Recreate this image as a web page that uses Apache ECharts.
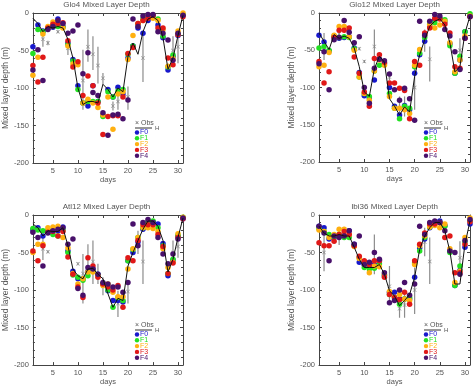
<!DOCTYPE html>
<html><head><meta charset="utf-8">
<script src="https://cdn.jsdelivr.net/npm/echarts@6/dist/echarts.min.js"></script>
<style>html,body{margin:0;padding:0;background:#fff}#c{width:474px;height:387px}</style>
</head><body><div id="c"></div>
<script>
const days = [1,2,3,4,5,6,7,8,9,10,11,12,13,14,15,16,17,18,19,20,21,22,23,24,25,26,27,28,29,30,31];
const xTicks = [5,10,15,20,25,30];
const titles = ["Glo4 Mixed Layer Depth","Glo12 Mixed Layer Depth","Atl12 Mixed Layer Depth","Ibi36 Mixed Layer Depth"];
const fNames = ["F0","F1","F2","F3","F4"];

// Panel 1 (Glo4)
const p1H  = [-7,-14,-25,-18,-20,-18,-20,-35,-60,-100,-122,-118,-118,-120,-95,-102,-112,-100,-105,-58,-40,-55,-25,-8,-5,-10,-33,-75,-60,-30,-3];
const p1F0 = [-45,-16,-24,-20,-19,-8,-18,-40,-62,-97,-120,-124,-97,-118,-136,-102,-112,-99,-108,-60,-44,-20,-27,-10,-5,-16,-33,-76,-58,-30,-3];
const p1F1 = [-54,-22,-25,-20,-18,-18,-19,-42,-64,-102,-120,-118,-118,-118,-138,-105,-112,-104,-102,-55,-44,-15,-8,-6,-3,-8,-31,-72,-56,-28,-2];
const p1F2 = [-83,-59,-28,-18,-12,-12,-20,-44,-68,-69,-120,-115,-120,-126,-136,-112,-155,-108,-105,-62,-30,-14,-10,-4,-7,-10,-22,-71,-61,-24,0];
const p1F3 = [-70,-92,-59,-20,-15,-14,-13,-37,-72,-65,-110,-84,-97,-120,-162,-138,-137,-137,-112,-54,-46,-14,-10,-7,-3,-20,-20,-60,-69,-29,-5];
const p1F4 = [-76,-49,-90,-22,-18,-10,-14,-27,-24,-16,-81,-53,-106,-110,-133,-163,-136,-135,-141,-116,-8,-18,-4,-2,-2,-25,-27,-36,-63,-27,-3];
const p1ObsDay = [3,4,6,8,11,12,13,14,15,17,18,20,23,29,30];
const p1ObsVal = [-35,-40,-25,-47,-90,-45,-55,-70,-87,-124,-118,-112,-60,-50,-45];
const p1ObsLo  = [-45,-43,-27,-56,-129,-65,-76,-94,-95,-130,-129,-129,-92,-67,-67];
const p1ObsHi  = [-25,-37,-23,-36,-49,-22,-31,-45,-80,-118,-107,-98,-27,-31,-25];

// Panel 2 (Glo12)
const p2H  = [-27,-38,-49,-29,-34,-31,-34,-47,-72,-106,-112,-75,-58,-66,-115,-125,-137,-126,-133,-85,-56,-36,-18,-11,-8,-16,-40,-79,-72,-27,-4];
const p2F0 = [-30,-39,-51,-32,-34,-33,-32,-47,-80,-111,-114,-90,-62,-68,-100,-125,-137,-124,-130,-81,-56,-38,-18,-9,-7,-12,-41,-81,-63,-25,-4];
const p2F1 = [-47,-45,-50,-31,-33,-32,-33,-48,-86,-108,-112,-78,-70,-68,-108,-128,-142,-125,-128,-72,-54,-33,-15,-13,-7,-9,-44,-81,-58,-25,-1];
const p2F2 = [-72,-70,-53,-30,-18,-18,-32,-50,-86,-108,-117,-78,-63,-70,-112,-128,-128,-130,-135,-70,-49,-29,-16,-20,-16,-11,-40,-79,-63,-31,-4];
const p2F3 = [-65,-94,-79,-33,-23,-23,-20,-59,-81,-106,-125,-61,-56,-66,-94,-94,-101,-104,-142,-65,-70,-27,-20,-7,-8,-15,-27,-72,-74,-34,-5];
const p2F4 = [-68,-52,-103,-36,-33,-10,-26,-40,-32,-100,-121,-74,-62,-64,-82,-103,-117,-101,-115,-144,-11,-30,-11,-2,-4,-22,-31,-52,-76,-34,-5];
const p2ObsDay = [2,5,9,10,12,15,17,18,20,22,23,29];
const p2ObsVal = [-42,-28,-48,-65,-45,-86,-128,-125,-100,-37,-62,-50];
const p2ObsLo  = [-63,-30,-50,-67,-72,-90,-144,-139,-130,-52,-92,-67];
const p2ObsHi  = [-27,-26,-46,-63,-22,-82,-112,-112,-72,-22,-45,-34];

// Panel 3 (Atl12)
const p3H  = [-12,-17,-28,-21,-22,-22,-17,-41,-72,-81,-85,-72,-71,-79,-85,-105,-123,-111,-114,-68,-50,-34,-19,-8,-8,-15,-34,-76,-59,-30,-4];
const p3F0 = [-20,-17,-28,-22,-21,-21,-16,-48,-75,-85,-85,-75,-72,-79,-92,-101,-114,-114,-116,-61,-50,-36,-19,-10,-9,-12,-38,-81,-60,-28,-5];
const p3F1 = [-18,-20,-21,-20,-26,-28,-20,-50,-80,-83,-87,-81,-75,-80,-92,-100,-123,-110,-114,-61,-46,-30,-17,-9,-8,-17,-41,-78,-59,-27,-3];
const p3F2 = [-50,-39,-39,-17,-16,-15,-30,-44,-78,-92,-85,-76,-76,-81,-94,-92,-103,-109,-109,-72,-45,-30,-17,-17,-18,-22,-45,-70,-63,-25,-3];
const p3F3 = [-48,-61,-41,-23,-22,-28,-22,-56,-79,-96,-110,-57,-68,-83,-92,-96,-100,-94,-123,-57,-61,-34,-13,-13,-13,-26,-42,-78,-64,-30,-5];
const p3F4 = [-23,-30,-68,-24,-21,-19,-17,-39,-32,-98,-107,-70,-72,-79,-90,-92,-96,-96,-103,-90,-12,-41,-10,-6,-10,-30,-52,-65,-52,-32,-4];
const p3ObsDay = [3,4,10,11,12,13,14,15,18,20,22,23,29,30];
const p3ObsVal = [-45,-49,-65,-78,-58,-62,-78,-95,-118,-102,-33,-62,-50,-42];
const p3ObsLo  = [-60,-51,-67,-118,-76,-92,-92,-107,-136,-118,-52,-92,-65,-57];
const p3ObsHi  = [-30,-47,-63,-52,-39,-34,-65,-83,-101,-87,-21,-34,-34,-26];

// Panel 4 (Ibi36)
const p4H  = [-15,-24,-28,-28,-26,-28,-28,-43,-59,-70,-70,-70,-66,-79,-101,-108,-121,-114,-106,-83,-46,-28,-17,-10,-10,-21,-48,-92,-92,-39,-8];
const p4F0 = [-15,-17,-32,-30,-28,-28,-21,-39,-63,-66,-70,-66,-61,-81,-103,-103,-112,-112,-112,-83,-44,-32,-17,-10,-8,-14,-48,-94,-74,-43,-12];
const p4F1 = [-18,-22,-26,-29,-26,-30,-30,-41,-57,-70,-72,-71,-65,-80,-106,-110,-119,-112,-110,-64,-48,-30,-16,-12,-10,-15,-50,-94,-68,-36,-8];
const p4F2 = [-20,-22,-30,-26,-19,-19,-26,-42,-58,-63,-77,-68,-69,-79,-102,-110,-106,-112,-114,-66,-41,-28,-16,-14,-17,-12,-45,-90,-75,-30,-4];
const p4F3 = [-37,-41,-41,-35,-26,-22,-26,-41,-55,-61,-66,-61,-61,-83,-106,-110,-113,-103,-119,-61,-39,-24,-12,-12,-10,-30,-28,-77,-77,-39,-9];
const p4F4 = [-15,-24,-61,-28,-30,-28,-21,-39,-28,-66,-63,-50,-59,-77,-117,-114,-100,-90,-107,-92,-15,-26,-10,-8,-10,-21,-48,-50,-79,-34,-6];
const p4ObsDay = [2,5,12,15,17,18,20,22,23,27,29];
const p4ObsVal = [-50,-28,-50,-95,-125,-120,-100,-36,-62,-45,-57];
const p4ObsLo  = [-75,-40,-79,-119,-137,-137,-132,-55,-92,-47,-79];
const p4ObsHi  = [-26,-20,-26,-68,-112,-106,-70,-17,-30,-43,-35];

const panels = [
  {H:p1H, F:[p1F0,p1F1,p1F2,p1F3,p1F4], od:p1ObsDay, ov:p1ObsVal, ol:p1ObsLo, oh:p1ObsHi},
  {H:p2H, F:[p2F0,p2F1,p2F2,p2F3,p2F4], od:p2ObsDay, ov:p2ObsVal, ol:p2ObsLo, oh:p2ObsHi},
  {H:p3H, F:[p3F0,p3F1,p3F2,p3F3,p3F4], od:p3ObsDay, ov:p3ObsVal, ol:p3ObsLo, oh:p3ObsHi},
  {H:p4H, F:[p4F0,p4F1,p4F2,p4F3,p4F4], od:p4ObsDay, ov:p4ObsVal, ol:p4ObsLo, oh:p4ObsHi}
];

const rects = [
  {left:30, top:13, width:153, height:150},
  {left:319, top:13, width:151, height:149},
  {left:30, top:215, width:153, height:151},
  {left:319, top:215, width:151, height:150}
];
const colors = ['#1818cc','#22e022','#ffb010','#e01818','#48106a'];
const axisCol = '#444';
const txtCol = '#555';
const FONT = 'Liberation Sans';

const grid = [], xAxis = [], yAxis = [], series = [], graphic = [];
const crossPath = 'path://M0,1L1,0L5,4L9,0L10,1L6,5L10,9L9,10L5,6L1,10L0,9L4,5Z';

rects.forEach((r, i) => {
  grid.push({left:r.left, top:r.top, width:r.width, height:r.height, show:false});
  const xb = {
    type:'value', gridIndex:i, min:1, max:31, position:'bottom',
    axisLine:{show:true, onZero:false, lineStyle:{color:axisCol, width:1}},
    axisTick:{show:true, inside:true, length:3, customValues:xTicks, lineStyle:{color:axisCol}},
    axisLabel:{customValues:xTicks, fontSize:7.5, color:txtCol, margin:4, fontFamily:FONT},
    splitLine:{show:false},
    name:'days', nameLocation:'middle', nameGap:12,
    nameTextStyle:{fontSize:7.5, color:txtCol, fontFamily:FONT}
  };
  const xt = {
    type:'value', gridIndex:i, min:1, max:31, position:'top',
    axisLine:{show:true, onZero:false, lineStyle:{color:axisCol, width:1}},
    axisTick:{show:true, inside:true, length:3, customValues:xTicks, lineStyle:{color:axisCol}},
    axisLabel:{show:false}, splitLine:{show:false}
  };
  xAxis.push(xb, xt);
  const yl = {
    type:'value', gridIndex:i, min:-200, max:0, interval:50, position:'left',
    axisLine:{show:true, onZero:false, lineStyle:{color:axisCol, width:1}},
    axisTick:{show:true, inside:true, length:3, lineStyle:{color:axisCol}},
    minorTick:{show:true, splitNumber:5, length:2, lineStyle:{color:axisCol}},
    axisLabel:{fontSize:7.5, color:txtCol, margin:4, fontFamily:FONT},
    splitLine:{show:false},
    name:'Mixed layer depth (m)', nameLocation:'middle', nameRotate:90, nameGap:22,
    nameTextStyle:{fontSize:8.5, color:txtCol, fontFamily:FONT}
  };
  const yr = {
    type:'value', gridIndex:i, min:-200, max:0, interval:50, position:'right',
    axisLine:{show:true, onZero:false, lineStyle:{color:axisCol, width:1}},
    axisTick:{show:true, inside:true, length:3, lineStyle:{color:axisCol}},
    minorTick:{show:true, splitNumber:5, length:2, lineStyle:{color:axisCol}},
    axisLabel:{show:false}, splitLine:{show:false}
  };
  yAxis.push(yl, yr);

  const p = panels[i];
  const xi = 2*i, yi = 2*i;
  series.push({
    type:'custom', xAxisIndex:xi, yAxisIndex:yi, z:2, silent:true,
    data: p.od.map((d,k) => [d, p.ol[k], p.oh[k]]),
    encode:{x:0, y:[1,2]},
    renderItem: (params, api) => {
      const a = api.coord([api.value(0), api.value(1)]);
      const b = api.coord([api.value(0), api.value(2)]);
      return {type:'line', shape:{x1:a[0], y1:a[1], x2:b[0], y2:b[1]}, style:{stroke:'#8c8c8c', lineWidth:1.2}};
    }
  });
  series.push({
    name:'Obs', type:'scatter', xAxisIndex:xi, yAxisIndex:yi, z:3, symbol:crossPath, symbolSize:4,
    itemStyle:{color:'#808080'},
    data: p.od.map((d,k) => [d, p.ov[k]])
  });
  p.F.forEach((arr, k) => {
    series.push({
      name:fNames[k], type:'scatter', xAxisIndex:xi, yAxisIndex:yi, z:4, symbol:'circle', symbolSize:5.5,
      itemStyle:{color:colors[k], opacity:1},
      data: days.map((d,j) => [d, arr[j]])
    });
  });
  series.push({
    name:'H', type:'line', xAxisIndex:xi, yAxisIndex:yi, z:5, showSymbol:false,
    lineStyle:{color:'#111', width:1},
    data: days.map((d,j) => [d, p.H[j]])
  });

  graphic.push({type:'text', x:r.left + r.width/2, y:r.top - 8, style:{text:titles[i], fill:txtCol, font:'8px "'+FONT+'"', textAlign:'center', textVerticalAlign:'middle'}});
  const lx = r.left + 105, ly = r.top + 110;
  graphic.push({type:'text', x:lx, y:ly, style:{text:'\u00d7 Obs', fill:txtCol, font:'7px "'+FONT+'"', textAlign:'left', textVerticalAlign:'middle'}});
  graphic.push({type:'line', shape:{x1:lx, y1:ly+5, x2:lx+17, y2:ly+5}, style:{stroke:'#333', lineWidth:1}});
  graphic.push({type:'text', x:lx+20, y:ly+5, style:{text:'H', fill:txtCol, font:'6px "'+FONT+'"', textAlign:'left', textVerticalAlign:'middle'}});
  fNames.forEach((nm, k) => {
    const yy = ly + 9.5 + k*5.8;
    graphic.push({type:'circle', shape:{cx:lx+2, cy:yy, r:2.2}, style:{fill:colors[k]}});
    graphic.push({type:'text', x:lx+5, y:yy, style:{text:nm, fill:colors[k], font:'7px "'+FONT+'"', textAlign:'left', textVerticalAlign:'middle'}});
  });
});

const chart = echarts.init(document.getElementById('c'), null, {renderer:'canvas'});
chart.setOption({
  backgroundColor:'#fff',
  animation:false,
  textStyle:{fontFamily:FONT},
  grid, xAxis, yAxis, series, graphic
});
</script></body></html>
